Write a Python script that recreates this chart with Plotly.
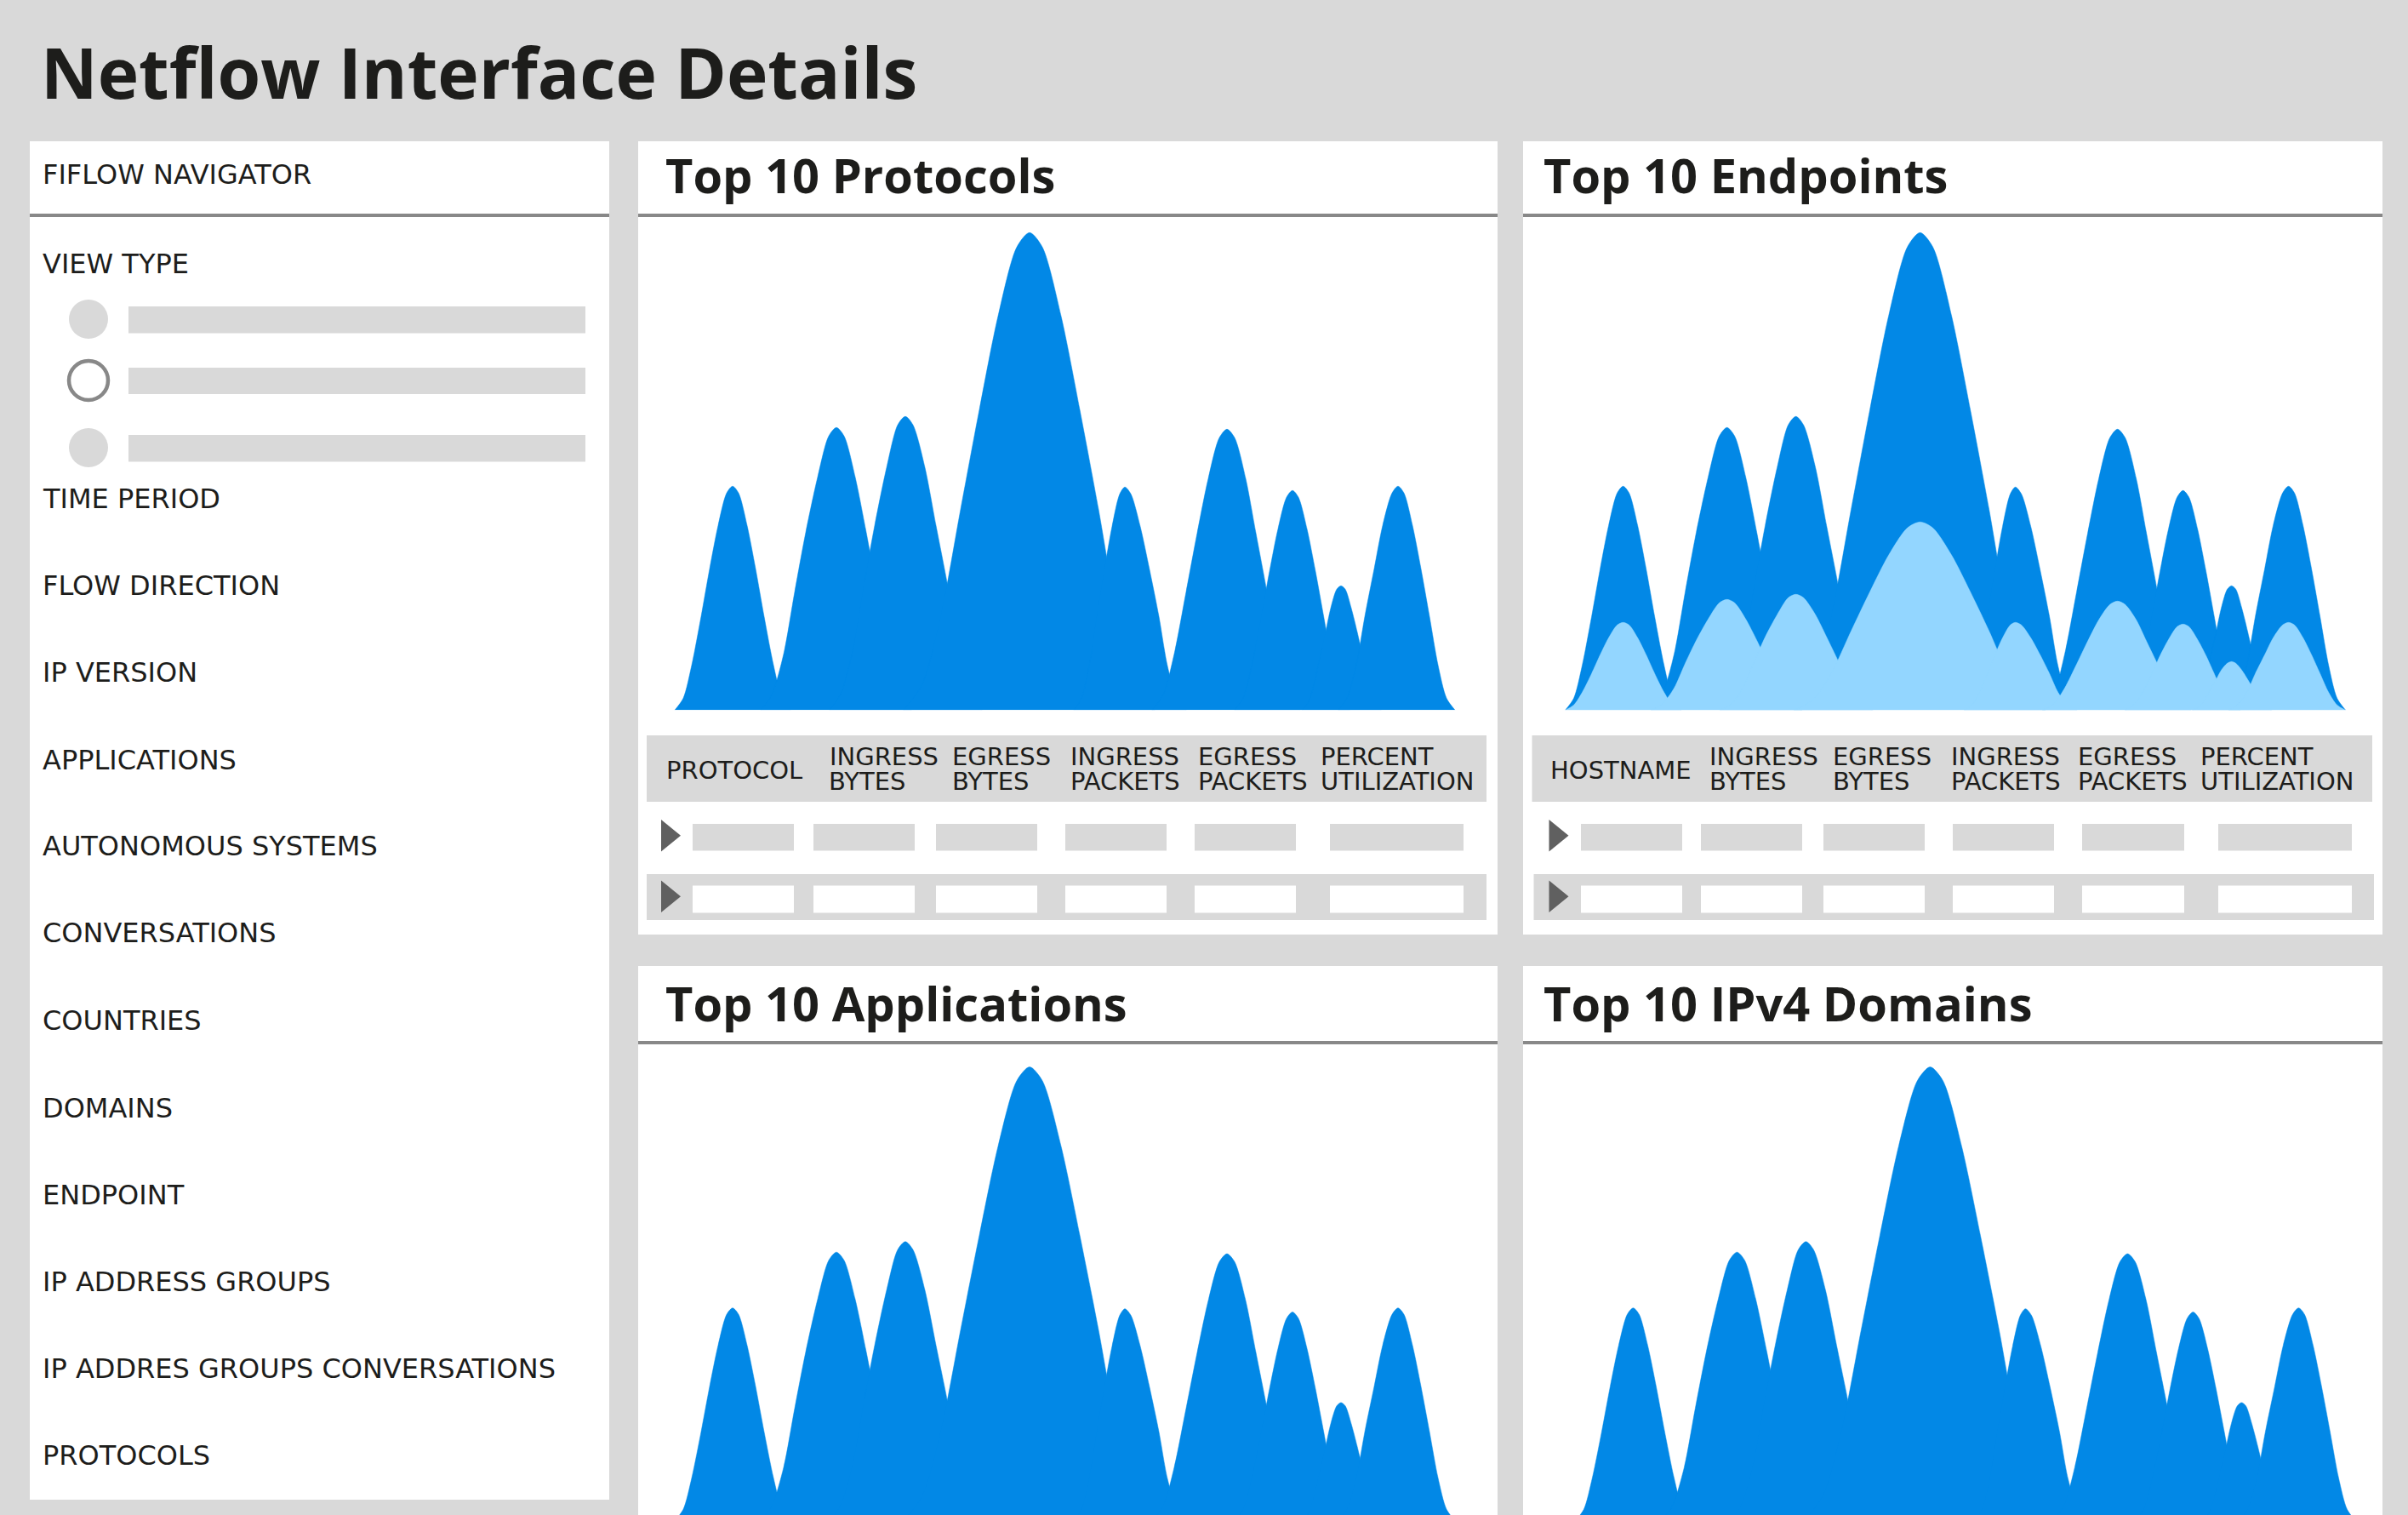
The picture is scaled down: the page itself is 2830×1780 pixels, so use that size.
import plotly.graph_objects as go

W = 2830
H = 1780
BG = '#d9d9d9'
BLUE = '#0288e6'
LIGHT = '#93d6ff'
INK = '#1d1d1b'
RULE = '#888888'
FONT = 'DejaVu Sans'
TITLE_FONT = 'Open Sans'

nav_items = ['TIME PERIOD', 'FLOW DIRECTION', 'IP VERSION', 'APPLICATIONS', 'AUTONOMOUS SYSTEMS',
             'CONVERSATIONS', 'COUNTRIES', 'DOMAINS', 'ENDPOINT', 'IP ADDRESS GROUPS',
             'IP ADDRES GROUPS CONVERSATIONS', 'PROTOCOLS']
nav_y = [586, 688, 790, 893, 994, 1096, 1199, 1302, 1404, 1506, 1608, 1710]

col_heads = [['INGRESS', 'BYTES'], ['EGRESS', 'BYTES'], ['INGRESS', 'PACKETS'],
             ['EGRESS', 'PACKETS'], ['PERCENT', 'UTILIZATION']]

# one list per hump, traffic
hump_x = [
    [43, 53, 63, 74, 84, 94, 104, 111, 118, 128, 138, 148, 159, 169, 179],
    [144, 157, 171, 184, 197, 211, 224, 233, 242, 255, 268, 281, 295, 308, 321],
    [225, 238, 252, 265, 278, 292, 305, 314, 323, 337, 350, 364, 377, 391, 404],
    [312, 334, 356, 379, 401, 423, 445, 460, 475, 497, 519, 541, 563, 585, 607],
    [512, 521, 530, 539, 548, 557, 566, 572, 579, 590, 601, 612, 622, 633, 644],
    [604, 617, 630, 644, 657, 670, 683, 692, 701, 714, 726, 739, 752, 765, 778],
    [701, 711, 721, 732, 742, 752, 762, 769, 776, 786, 796, 806, 816, 826, 836],
    [780, 787, 794, 801, 808, 814, 821, 826, 831, 838, 845, 852, 859, 866, 873],
    [823, 833, 844, 854, 865, 875, 886, 893, 900, 910, 920, 930, 940, 950, 960],
]
hump_dark = [
    [0, 14, 53, 110, 166, 217, 255, 263, 255, 217, 166, 110, 53, 14, 0],
    [0, 18, 66, 139, 209, 274, 322, 332, 322, 274, 209, 139, 66, 18, 0],
    [0, 19, 69, 145, 217, 285, 335, 345, 335, 285, 217, 145, 69, 19, 0],
    [0, 31, 112, 236, 353, 463, 544, 561, 544, 463, 353, 236, 112, 31, 0],
    [0, 14, 52, 110, 165, 216, 254, 262, 254, 216, 165, 110, 52, 14, 0],
    [0, 18, 66, 139, 208, 272, 320, 330, 320, 272, 208, 139, 66, 18, 0],
    [0, 14, 52, 108, 163, 213, 250, 258, 250, 213, 163, 108, 52, 14, 0],
    [0, 8, 29, 61, 92, 120, 142, 146, 142, 120, 92, 61, 29, 8, 0],
    [0, 14, 53, 110, 166, 217, 255, 263, 255, 217, 166, 110, 53, 14, 0],
]
hump_light = [
    [0, 6, 21, 43, 65, 85, 100, 103, 100, 85, 65, 43, 21, 6, 0],
    [0, 7, 26, 55, 82, 107, 126, 130, 126, 107, 82, 55, 26, 7, 0],
    [0, 7, 27, 57, 86, 112, 132, 136, 132, 112, 86, 57, 27, 7, 0],
    [0, 12, 44, 93, 139, 182, 214, 221, 214, 182, 139, 93, 44, 12, 0],
    [0, 6, 21, 43, 65, 85, 100, 103, 100, 85, 65, 43, 21, 6, 0],
    [0, 7, 26, 54, 81, 106, 124, 128, 124, 106, 81, 54, 26, 7, 0],
    [0, 6, 20, 42, 64, 83, 98, 101, 98, 83, 64, 42, 20, 6, 0],
    [0, 3, 11, 24, 36, 47, 55, 57, 55, 47, 36, 24, 11, 3, 0],
    [0, 6, 21, 43, 65, 85, 100, 103, 100, 85, 65, 43, 21, 6, 0],
]

shapes = []
annotations = []


def px(x):
    return x / W


def py(y):
    return 1 - y / H


def rect(x0, y0, x1, y1, color):
    shapes.append(dict(type='rect', xref='paper', yref='paper', layer='below',
                       x0=px(x0), x1=px(x1), y0=py(y0), y1=py(y1),
                       fillcolor=color, line=dict(width=0)))


def text(x, y, s, size=32, weight=400, family=FONT):
    annotations.append(dict(x=px(x), y=py(y), xref='paper', yref='paper', text=s, showarrow=False,
                            xanchor='left', yanchor='middle', borderpad=0,
                            font=dict(family=family, size=size, color=INK, weight=weight)))


def triangle(x0, x1, y0, y1):
    path = 'M %f %f L %f %f L %f %f Z' % (px(x0), py(y0), px(x1), py((y0 + y1) / 2), px(x0), py(y1))
    shapes.append(dict(type='path', xref='paper', yref='paper', layer='below', path=path,
                       fillcolor='#606060', line=dict(width=0)))


def circle(cx, cy, r, fill, line_w=0):
    shapes.append(dict(type='circle', xref='paper', yref='paper', layer='below',
                       x0=px(cx - r), x1=px(cx + r), y0=py(cy + r), y1=py(cy - r),
                       fillcolor=fill, line=dict(width=line_w, color=RULE)))


text(47, 84, 'Netflow Interface Details', size=82, weight=700, family=TITLE_FONT)

# sidebar
rect(35, 166, 716, 1762, 'white')
rect(35, 251, 716, 255, RULE)
text(48.5, 205, 'FIFLOW NAVIGATOR')
text(48.5, 310, 'VIEW TYPE')
circle(104, 375, 23, BG)
circle(104, 447, 23, 'white', 4.5)
circle(104, 526, 23, BG)
rect(151, 360, 688, 391.5, BG)
rect(151, 432, 688, 463, BG)
rect(151, 511, 688, 542.5, BG)
for item, y in zip(nav_items, nav_y):
    text(48.5, y, item)

fig = go.Figure()


def add_panel(n, left, title, title_x, title_y, top, rule_y, bottom, chart_left, y_dom, y_rng, light=False):
    rect(left, top, left + 1010, bottom, 'white')
    rect(left, rule_y, left + 1010, rule_y + 4, RULE)
    text(title_x, title_y, title, size=56, weight=700, family=TITLE_FONT)
    xa = 'x' if n == 1 else 'x%d' % n
    ya = 'y' if n == 1 else 'y%d' % n
    for hx, hy in zip(hump_x, hump_dark):
        fig.add_trace(go.Scatter(x=hx, y=hy, xaxis=xa, yaxis=ya, mode='lines', fill='tozeroy',
                                 fillcolor=BLUE, line=dict(color=BLUE, width=0.5, shape='spline', smoothing=0.8)))
    if light:
        for hx, hy in zip(hump_x, hump_light):
            fig.add_trace(go.Scatter(x=hx, y=hy, xaxis=xa, yaxis=ya, mode='lines', fill='tozeroy',
                                     fillcolor=LIGHT, line=dict(color=LIGHT, width=0.5, shape='spline', smoothing=0.8)))
    suffix = '' if n == 1 else str(n)
    axis = dict(visible=False, fixedrange=True)
    fig.layout['xaxis' + suffix] = dict(axis, domain=[px(chart_left), px(chart_left + 990)], range=[0, 990],
                                        anchor=ya)
    fig.layout['yaxis' + suffix] = dict(axis, domain=[py(y_dom[1]), py(y_dom[0])], range=y_rng, anchor=xa)


def add_table(first_head, first_x, head_xs, band_x, row_x, cells, tri_x):
    rect(band_x[0], 864, band_x[1], 942, BG)
    text(first_x, 905, first_head, size=29)
    for (line1, line2), x in zip(col_heads, head_xs):
        text(x, 889, line1, size=29)
        text(x, 918, line2, size=29)
    rect(row_x[0], 1027, row_x[1], 1081, BG)
    triangle(tri_x, tri_x + 23, 963, 1000.5)
    triangle(tri_x, tri_x + 23, 1034.5, 1072)
    for x0, x1 in cells:
        rect(x0, 968, x1, 999.5, BG)
        rect(x0, 1040.5, x1, 1072.5, 'white')


add_panel(1, 750, 'Top 10 Protocols', 781, 205, 166, 251, 1098, 750, (254.5, 834.3), [0, 579.8])
add_panel(2, 1790, 'Top 10 Endpoints', 1813, 205, 166, 251, 1098, 1796.6, (254.5, 834.3), [0, 579.8], light=True)
add_panel(3, 750, 'Top 10 Applications', 781, 1178, 1135, 1223, 1780, 750, (1226.5, 1780), [7, 589.5])
add_panel(4, 1790, 'Top 10 IPv4 Domains', 1813, 1178, 1135, 1223, 1780, 1808.4, (1226.5, 1780), [7, 589.5])

add_table('PROTOCOL', 782, [973.5, 1118, 1257, 1406.5, 1550.5], (760, 1747), (760, 1747),
          [(814, 933), (956, 1075), (1100, 1219), (1252, 1371), (1404, 1523), (1563, 1720)], 777)
add_table('HOSTNAME', 1821, [2007.5, 2152.5, 2292, 2441, 2585], (1800.5, 2788), (1802.5, 2790),
          [(1858, 1977), (1999, 2118), (2143, 2262), (2295, 2414), (2447, 2567), (2607, 2764)], 1820.5)

fig.update_layout(width=W, height=H, margin=dict(l=0, r=0, t=0, b=0), showlegend=False,
                  paper_bgcolor=BG, plot_bgcolor='rgba(0,0,0,0)',
                  shapes=shapes, annotations=annotations)
fig.write_html("out.html", config=dict(displayModeBar=False), post_script="document.body.style.margin='0';")
